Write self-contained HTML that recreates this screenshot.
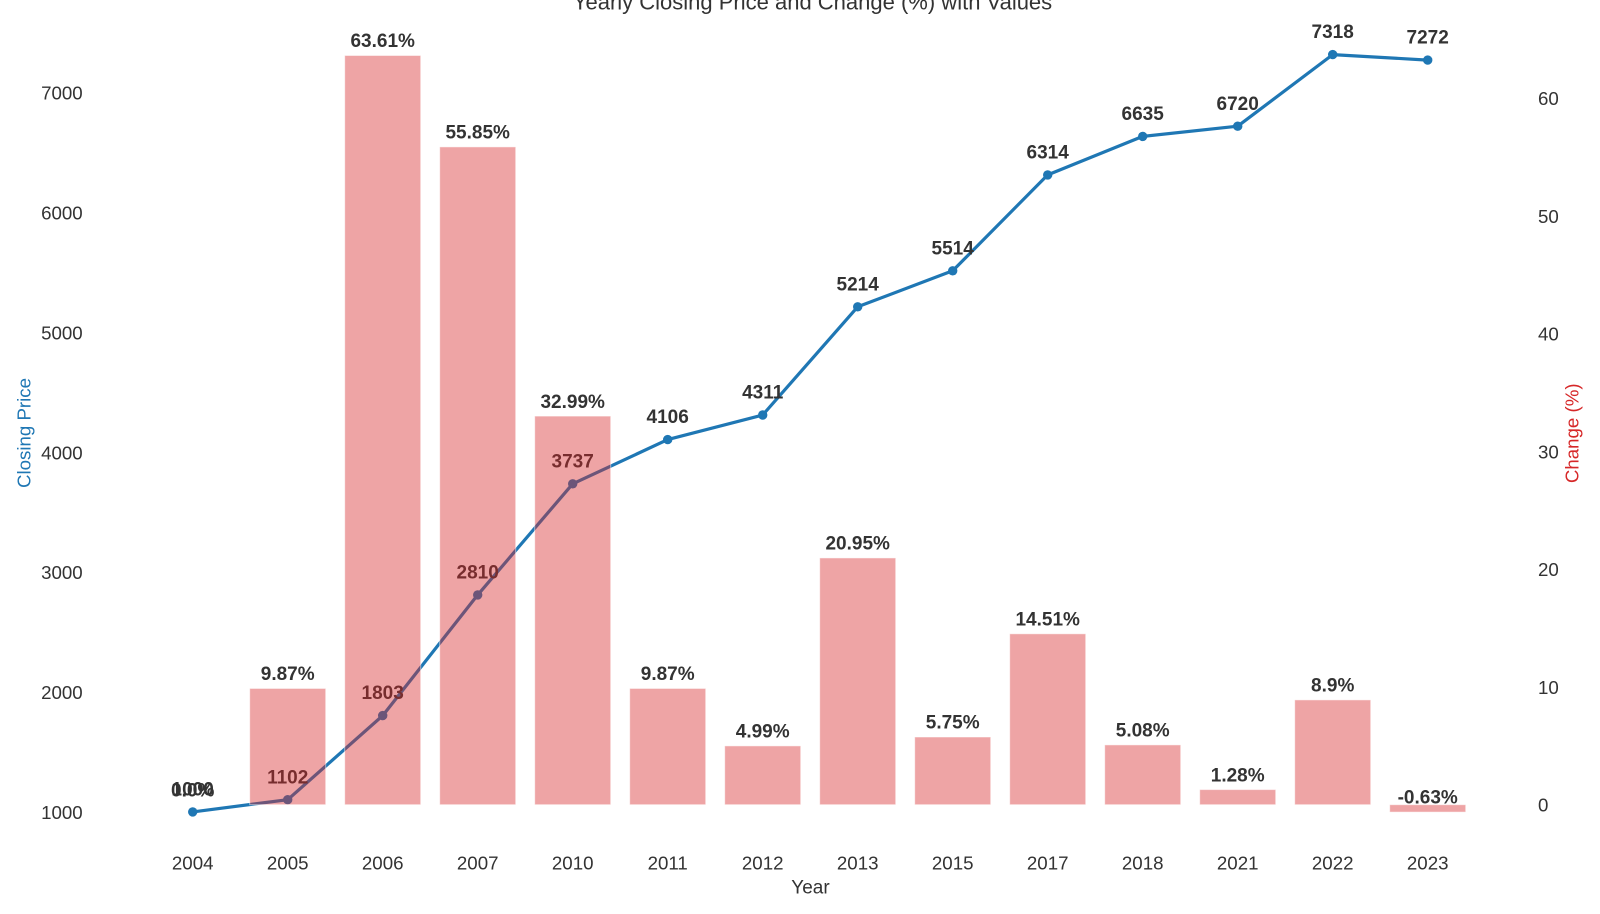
<!DOCTYPE html>
<html>
<head>
<meta charset="utf-8">
<style>
  html, body { margin:0; padding:0; background:#ffffff; }
  svg { display:block; }
  text { font-family: "Liberation Sans", "DejaVu Sans", sans-serif; }
</style>
</head>
<body>
<svg width="1600" height="914" viewBox="0 0 1600 914" xmlns="http://www.w3.org/2000/svg">
  <rect x="0" y="0" width="1600" height="914" fill="#ffffff"/>

  <!-- Title (clipped at top) -->
  <text x="812.5" y="9.5" font-size="22" fill="#333333" text-anchor="middle">Yearly Closing Price and Change (%) with Values</text>

  <!-- Left y tick labels -->
  <g font-size="18.7" fill="#333333" text-anchor="end">
    <text x="82.7" y="818.9">1000</text>
    <text x="82.7" y="699.0">2000</text>
    <text x="82.7" y="579.2">3000</text>
    <text x="82.7" y="459.3">4000</text>
    <text x="82.7" y="339.4">5000</text>
    <text x="82.7" y="219.5">6000</text>
    <text x="82.7" y="99.7">7000</text>
  </g>

  <!-- Right y tick labels -->
  <g font-size="18.7" fill="#333333" text-anchor="start">
    <text x="1538" y="811.7">0</text>
    <text x="1538" y="693.9">10</text>
    <text x="1538" y="576.1">20</text>
    <text x="1538" y="458.4">30</text>
    <text x="1538" y="340.6">40</text>
    <text x="1538" y="222.8">50</text>
    <text x="1538" y="105.0">60</text>
  </g>

  <!-- X tick labels -->
  <g font-size="18.7" fill="#333333" text-anchor="middle">
    <text x="192.7" y="869.3">2004</text>
    <text x="287.7" y="869.3">2005</text>
    <text x="382.7" y="869.3">2006</text>
    <text x="477.7" y="869.3">2007</text>
    <text x="572.7" y="869.3">2010</text>
    <text x="667.7" y="869.3">2011</text>
    <text x="762.7" y="869.3">2012</text>
    <text x="857.7" y="869.3">2013</text>
    <text x="952.7" y="869.3">2015</text>
    <text x="1047.7" y="869.3">2017</text>
    <text x="1142.7" y="869.3">2018</text>
    <text x="1237.7" y="869.3">2021</text>
    <text x="1332.7" y="869.3">2022</text>
    <text x="1427.7" y="869.3">2023</text>
  </g>

  <!-- Axis labels -->
  <text x="810.5" y="893.3" font-size="19" fill="#333333" text-anchor="middle">Year</text>
  <text transform="translate(30.5,433) rotate(-90)" font-size="18.7" fill="#1f77b4" text-anchor="middle">Closing Price</text>
  <text transform="translate(1578.5,433.3) rotate(-90)" font-size="18.7" fill="#d62728" text-anchor="middle">Change (%)</text>

  <!-- Line series (ax1) -->
  <polyline fill="none" stroke="#1f77b4" stroke-width="3.2" stroke-linejoin="round" stroke-linecap="round"
    points="192.7,811.9 287.7,799.7 382.7,715.6 477.7,594.9 572.7,483.8 667.7,439.6 762.7,415.0 857.7,306.8 952.7,270.8 1047.7,174.9 1142.7,136.4 1237.7,126.2 1332.7,54.6 1427.7,60.1"/>
  <g fill="#1f77b4">
    <circle cx="192.7" cy="811.9" r="4.7"/>
    <circle cx="287.7" cy="799.7" r="4.7"/>
    <circle cx="382.7" cy="715.6" r="4.7"/>
    <circle cx="477.7" cy="594.9" r="4.7"/>
    <circle cx="572.7" cy="483.8" r="4.7"/>
    <circle cx="667.7" cy="439.6" r="4.7"/>
    <circle cx="762.7" cy="415.0" r="4.7"/>
    <circle cx="857.7" cy="306.8" r="4.7"/>
    <circle cx="952.7" cy="270.8" r="4.7"/>
    <circle cx="1047.7" cy="174.9" r="4.7"/>
    <circle cx="1142.7" cy="136.4" r="4.7"/>
    <circle cx="1237.7" cy="126.2" r="4.7"/>
    <circle cx="1332.7" cy="54.6" r="4.7"/>
    <circle cx="1427.7" cy="60.1" r="4.7"/>
  </g>
  <g font-size="19" font-weight="bold" fill="#333333" text-anchor="middle">
    <text x="192.7" y="795.5">1000</text>
    <text x="287.7" y="783.3">1102</text>
    <text x="382.7" y="699.2">1803</text>
    <text x="477.7" y="578.5">2810</text>
    <text x="572.7" y="467.4">3737</text>
    <text x="667.7" y="423.2">4106</text>
    <text x="762.7" y="398.6">4311</text>
    <text x="857.7" y="290.4">5214</text>
    <text x="952.7" y="254.4">5514</text>
    <text x="1047.7" y="158.5">6314</text>
    <text x="1142.7" y="120.0">6635</text>
    <text x="1237.7" y="109.8">6720</text>
    <text x="1332.7" y="38.2">7318</text>
    <text x="1427.7" y="43.7">7272</text>
  </g>

  <!-- Bars (ax2, drawn on top with alpha) -->
  <g fill="#d62728" fill-opacity="0.42" stroke="#ffffff" stroke-opacity="0.5" stroke-width="1">
    <rect x="249.7" y="688.45" width="76" height="116.25"/>
    <rect x="344.7" y="55.5" width="76" height="749.2"/>
    <rect x="439.7" y="146.9" width="76" height="657.8"/>
    <rect x="534.7" y="416.1" width="76" height="388.6"/>
    <rect x="629.7" y="688.45" width="76" height="116.25"/>
    <rect x="724.7" y="745.9" width="76" height="58.8"/>
    <rect x="819.7" y="557.95" width="76" height="246.75"/>
    <rect x="914.7" y="737.0" width="76" height="67.7"/>
    <rect x="1009.7" y="633.8" width="76" height="170.9"/>
    <rect x="1104.7" y="744.9" width="76" height="59.8"/>
    <rect x="1199.7" y="789.6" width="76" height="15.1"/>
    <rect x="1294.7" y="699.9" width="76" height="104.8"/>
    <rect x="1389.7" y="804.7" width="76" height="7.4"/>
  </g>

  <!-- Bar labels -->
  <g font-size="19" font-weight="bold" fill="#333333" text-anchor="middle">
    <text x="192.7" y="796.4">0.0%</text>
    <text x="287.7" y="680.1">9.87%</text>
    <text x="382.7" y="47.2">63.61%</text>
    <text x="477.7" y="138.6">55.85%</text>
    <text x="572.7" y="407.8">32.99%</text>
    <text x="667.7" y="680.1">9.87%</text>
    <text x="762.7" y="737.6">4.99%</text>
    <text x="857.7" y="549.6">20.95%</text>
    <text x="952.7" y="728.7">5.75%</text>
    <text x="1047.7" y="625.5">14.51%</text>
    <text x="1142.7" y="736.6">5.08%</text>
    <text x="1237.7" y="781.3">1.28%</text>
    <text x="1332.7" y="691.6">8.9%</text>
    <text x="1427.7" y="803.3">-0.63%</text>
  </g>
</svg>
</body>
</html>
